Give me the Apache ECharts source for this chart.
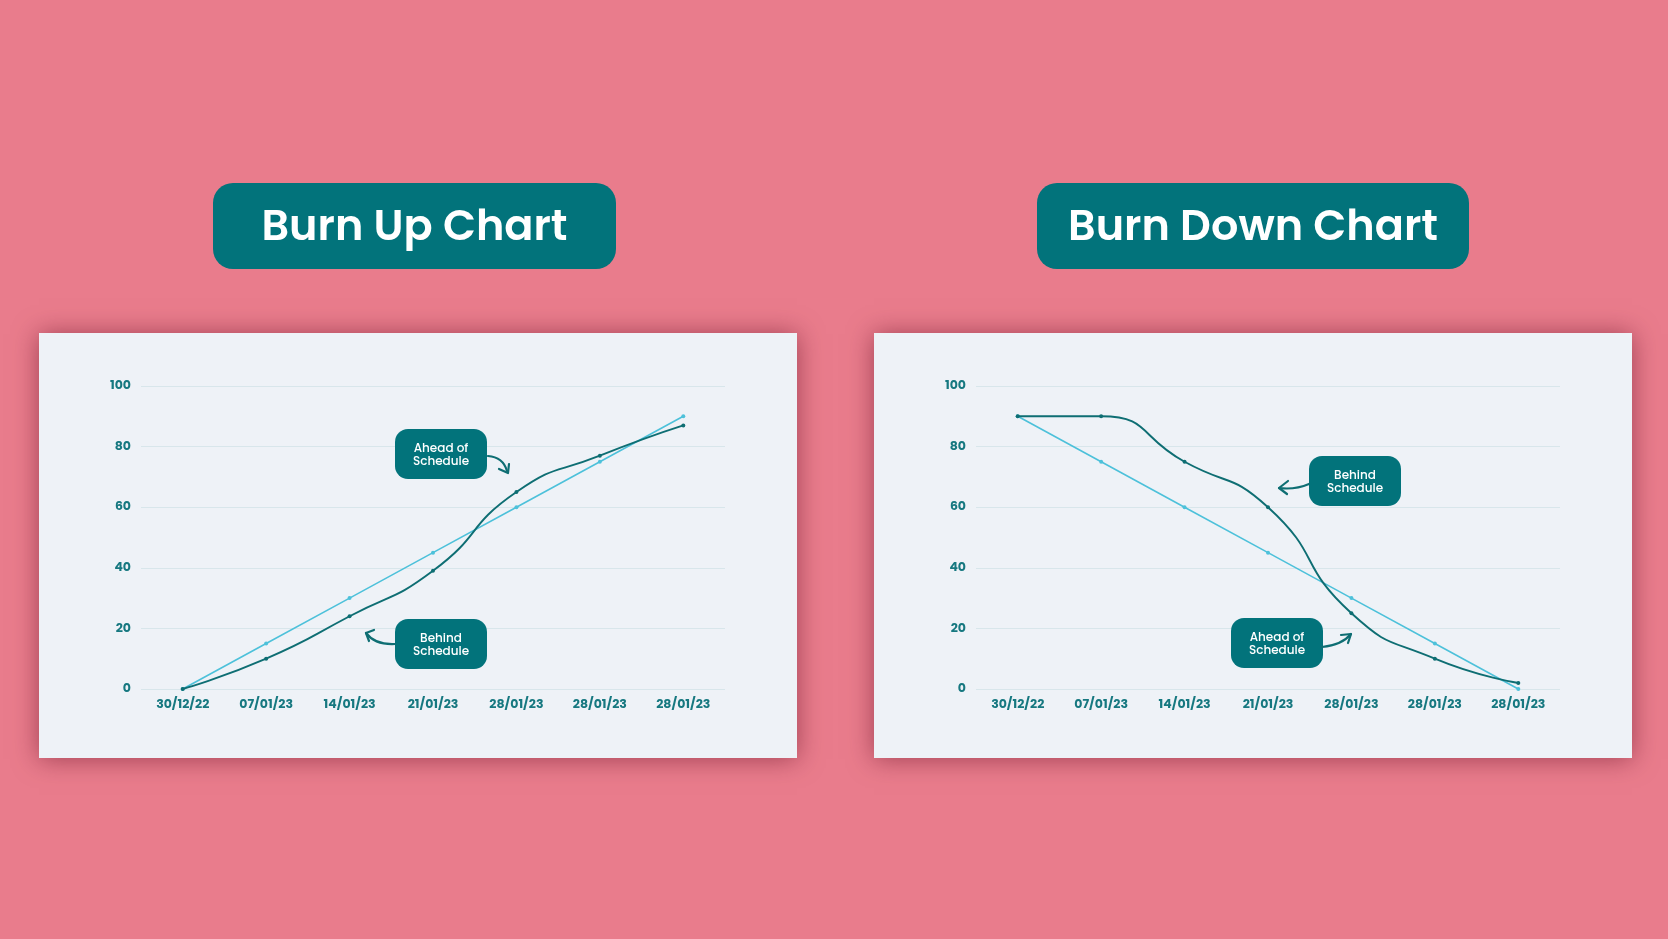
<!DOCTYPE html>
<html>
<head>
<meta charset="utf-8">
<script src="https://cdn.jsdelivr.net/npm/echarts@6/dist/echarts.min.js"></script>
<style>
html,body{margin:0;padding:0;background:#E97C8C;}
#c{width:1668px;height:939px;}
</style>
</head>
<body>
<div id="c"></div>
<script>
const categories = ['30/12/22','07/01/23','14/01/23','21/01/23','28/01/23','28/01/23','28/01/23'];
const burnUpIdeal = [0, 15, 30, 45, 60, 75, 90];
const burnUpActual = [0, 10, 24, 39, 65, 77, 87];
const burnDownIdeal = [90, 75, 60, 45, 30, 15, 0];
const burnDownActual = [90, 90, 75, 60, 25, 10, 2];
const yMin = 0, yMax = 100, yStep = 20;
const titles = ['Burn Up Chart', 'Burn Down Chart'];
const aheadText = 'Ahead of\nSchedule';
const behindText = 'Behind\nSchedule';

const TEAL = '#02737B';
const DARK = '#0E6E73';
const LIGHT = '#4DC1DA';
const LABEL = '#167880';
const FONT = 'Poppins, Inter, "Noto Sans", sans-serif';

const chart = echarts.init(document.getElementById('c'), null, {renderer: 'canvas'});

function xAxis(gi) {
  return {
    type: 'category', gridIndex: gi, data: categories, boundaryGap: true,
    axisLine: {show: false}, axisTick: {show: false},
    axisLabel: {color: LABEL, fontSize: 12.5, fontWeight: 'bold', fontFamily: FONT, margin: 9}
  };
}
function yAxis(gi) {
  return {
    type: 'value', gridIndex: gi, min: yMin, max: yMax, interval: yStep,
    axisLine: {show: false}, axisTick: {show: false},
    axisLabel: {color: LABEL, fontSize: 12.5, fontWeight: 'bold', fontFamily: FONT, margin: 10},
    splitLine: {lineStyle: {color: '#D8E6EB', width: 1.2}}
  };
}
function lineSeries(gi, data, color, smooth, width, z) {
  return {
    type: 'line', xAxisIndex: gi, yAxisIndex: gi, data: data, smooth: smooth,
    symbol: 'circle', symbolSize: 4, z: z,
    lineStyle: {color: color, width: width},
    itemStyle: {color: color}
  };
}
function panel(x) {
  return {type: 'rect', z: -10, shape: {x: x, y: 333, width: 758, height: 425},
    style: {fill: '#EEF2F7', shadowBlur: 24, shadowColor: 'rgba(110,25,45,0.6)', shadowOffsetY: 1}};
}
function titleBox(x, w, text) {
  return {type: 'group', children: [
    {type: 'rect', z: 100, shape: {x: x, y: 183, width: w, height: 86, r: 20}, style: {fill: TEAL}},
    {type: 'text', z: 101, x: x + w / 2, y: 229, style: {text: text, fill: '#fff', font: '600 43px ' + FONT, align: 'center', verticalAlign: 'middle'}}
  ]};
}
function noteBox(x, y, text) {
  return {type: 'group', children: [
    {type: 'rect', z: 100, shape: {x: x, y: y, width: 92, height: 50, r: 13}, style: {fill: TEAL}},
    {type: 'text', z: 101, x: x + 46, y: y + 26, style: {text: text, fill: '#fff', font: '500 12px ' + FONT, align: 'center', verticalAlign: 'middle', lineHeight: 13}}
  ]};
}
function arrow(x1, y1, cx, cy, x2, y2, head) {
  const st = {stroke: DARK, lineWidth: 2.2, fill: null, lineCap: 'round', lineJoin: 'round'};
  return {type: 'group', children: [
    {type: 'bezierCurve', z: 100, shape: {x1: x1, y1: y1, cpx1: cx, cpy1: cy, x2: x2, y2: y2}, style: st},
    {type: 'polyline', z: 100, shape: {points: head}, style: st}
  ]};
}

chart.setOption({
  backgroundColor: '#E97C8C',
  animation: false,
  grid: [
    {left: 141, top: 386, width: 584, height: 303},
    {left: 976, top: 386, width: 584, height: 303}
  ],
  xAxis: [xAxis(0), xAxis(1)],
  yAxis: [yAxis(0), yAxis(1)],
  series: [
    lineSeries(0, burnUpIdeal, LIGHT, false, 1.6, 3),
    lineSeries(0, burnUpActual, DARK, 0.55, 1.9, 4),
    lineSeries(1, burnDownIdeal, LIGHT, false, 1.6, 3),
    lineSeries(1, burnDownActual, DARK, 0.55, 1.9, 4)
  ],
  graphic: [
    panel(39), panel(874),
    titleBox(213, 403, titles[0]),
    titleBox(1037, 432, titles[1]),
    noteBox(395, 429, aheadText),
    noteBox(395, 619, behindText),
    noteBox(1309, 456, behindText),
    noteBox(1231, 618, aheadText),
    arrow(488, 456, 503, 457, 507, 471, [[499, 469], [508, 473], [509, 464]]),
    arrow(395, 644, 375, 645, 366, 633, [[374, 630], [366, 633], [369, 641]]),
    arrow(1309, 484, 1295, 490, 1279, 488, [[1288, 481], [1279, 488], [1287, 494]]),
    arrow(1322, 647, 1342, 645, 1351, 634, [[1341, 635], [1351, 634], [1348, 643]])
  ]
});
</script>
</body>
</html>
